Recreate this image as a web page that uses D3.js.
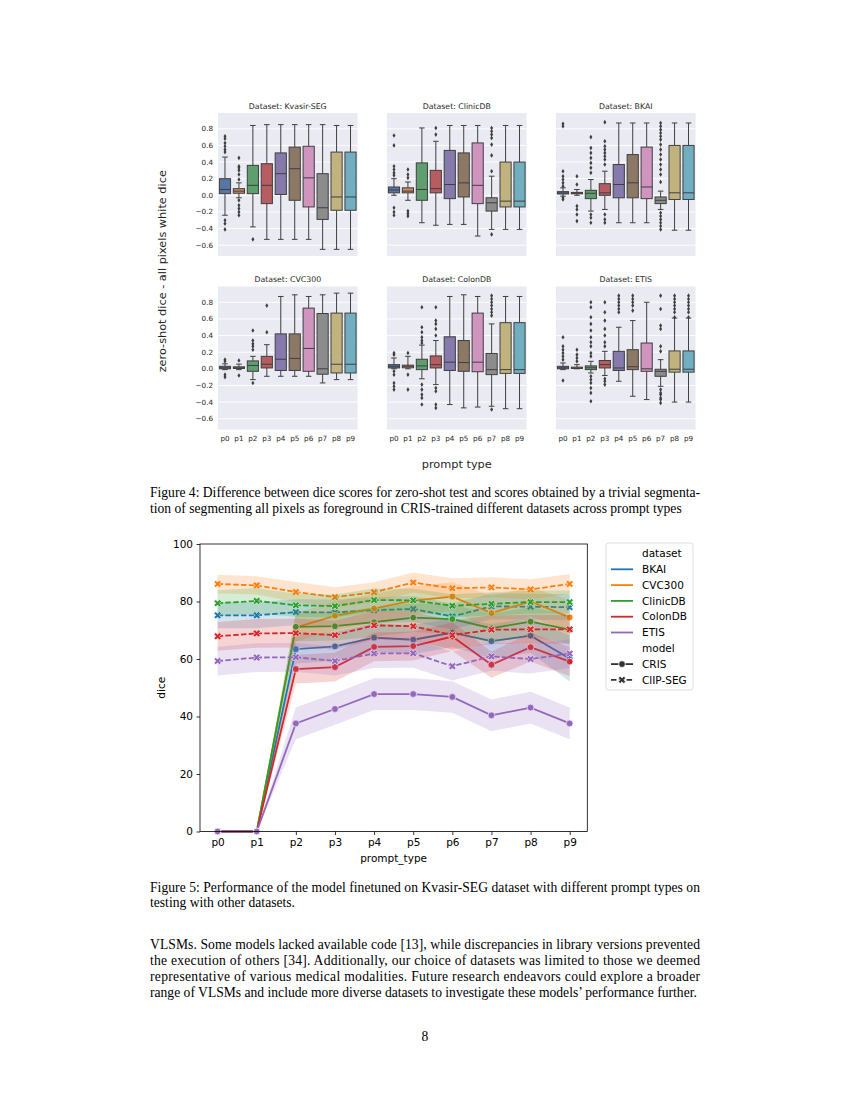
<!DOCTYPE html>
<html>
<head>
<meta charset="utf-8">
<script src="https://cdn.jsdelivr.net/npm/d3@7"></script>
<style>
  body { margin: 0; background: #fff; }
  svg { display: block; }
</style>
</head>
<body>
<svg id="page" width="850" height="1100"></svg>
<script>
// ---------- data ----------
const prompts = ['p0', 'p1', 'p2', 'p3', 'p4', 'p5', 'p6', 'p7', 'p8', 'p9'];

// figure 4: one box per prompt = [whisker low, q1, median, q3, whisker high]
const boxDatasets = ['Kvasir-SEG', 'ClinicDB', 'BKAI', 'CVC300', 'ColonDB', 'ETIS'];
const boxTicks = [-0.6, -0.4, -0.2, 0.0, 0.2, 0.4, 0.6, 0.8];

const kvasirBoxes = [
  [-0.24, 0.02, 0.07, 0.20, 0.46], [-0.03, 0.025, 0.05, 0.08, 0.15], [-0.38, 0.02, 0.12, 0.36, 0.84],
  [-0.53, -0.10, 0.12, 0.38, 0.85], [-0.53, 0.01, 0.26, 0.51, 0.85], [-0.53, -0.06, 0.32, 0.58, 0.85],
  [-0.53, -0.14, 0.21, 0.59, 0.85], [-0.65, -0.29, -0.15, 0.26, 0.85], [-0.65, -0.18, -0.02, 0.52, 0.84],
  [-0.65, -0.18, -0.02, 0.52, 0.84]];
const kvasirFliers = [
  [0.71, 0.68, 0.63, 0.59, 0.55, 0.52, -0.30, -0.34, -0.41],
  [0.45, 0.35, 0.33, 0.30, 0.25, 0.19, -0.06, -0.12, -0.16, -0.20, -0.24],
  [-0.53], [], [], [], [], [], [], []];

const clinicBoxes = [
  [0.0, 0.03, 0.064, 0.10, 0.20], [-0.06, 0.03, 0.05, 0.09, 0.16], [-0.33, -0.06, 0.07, 0.39, 0.81],
  [-0.36, 0.03, 0.08, 0.30, 0.65], [-0.35, -0.04, 0.13, 0.54, 0.84], [-0.35, -0.02, 0.15, 0.51, 0.84],
  [-0.49, -0.10, 0.12, 0.63, 0.84], [-0.41, -0.19, -0.09, -0.03, 0.23], [-0.41, -0.14, -0.07, 0.40, 0.84],
  [-0.41, -0.14, -0.07, 0.40, 0.84]];
const clinicFliers = [
  [0.72, 0.60, 0.35, 0.31, 0.27, 0.24, -0.15, -0.20, -0.24],
  [0.31, 0.25, 0.21, -0.19, -0.22, -0.25],
  [], [0.81, 0.73], [], [], [],
  [0.81, 0.77, 0.73, 0.69, 0.61, 0.48, 0.29, -0.47], [], []];

const bkaiBoxes = [
  [-0.01, 0.016, 0.028, 0.044, 0.09], [0.0, 0.018, 0.024, 0.035, 0.07], [-0.19, -0.04, 0.024, 0.06, 0.19],
  [-0.17, 0.0, 0.03, 0.14, 0.29], [-0.33, -0.03, 0.13, 0.37, 0.87], [-0.33, -0.03, 0.15, 0.49, 0.87],
  [-0.33, -0.04, 0.10, 0.58, 0.87], [-0.17, -0.10, -0.06, -0.02, 0.05], [-0.42, -0.05, 0.03, 0.60, 0.87],
  [-0.42, -0.05, 0.03, 0.60, 0.87]];
const bkaiFliers = [
  [0.86, 0.83, 0.29, 0.23, 0.19, 0.15, 0.11, -0.03, -0.05],
  [0.23, 0.13, -0.13, -0.17, -0.23, -0.31],
  [0.70, 0.57, 0.51, 0.45, 0.39, 0.33, 0.27, -0.23, -0.27, -0.33],
  [0.88, 0.65, 0.59, 0.55, 0.51, 0.47, 0.43, 0.37, -0.23, -0.29, -0.33],
  [], [], [],
  [0.87, 0.83, 0.79, 0.75, 0.71, 0.67, 0.61, 0.55, 0.49, 0.43, 0.37, 0.31, 0.25, 0.16,
   -0.21, -0.25, -0.29, -0.33, -0.37, -0.41],
  [], []];

const cvcBoxes = [
  [-0.01, 0.0, 0.012, 0.03, 0.06], [-0.01, 0.004, 0.012, 0.024, 0.056], [-0.13, -0.03, 0.04, 0.095, 0.15],
  [-0.09, 0.01, 0.055, 0.15, 0.29], [-0.09, -0.02, 0.115, 0.42, 0.87], [-0.09, -0.02, 0.125, 0.42, 0.89],
  [-0.09, -0.03, 0.245, 0.73, 0.87], [-0.17, -0.065, 0.0, 0.665, 0.89], [-0.13, -0.05, 0.055, 0.67, 0.91],
  [-0.13, -0.05, 0.055, 0.67, 0.91]];
const cvcFliers = [
  [0.09, 0.11, -0.07, -0.10], [0.10, -0.08], [0.46, 0.34, 0.30, 0.27, 0.23, -0.17],
  [0.76, 0.44], [], [], [], [], [], []];

const colonBoxes = [
  [0.0, 0.01, 0.03, 0.05, 0.13], [0.0, 0.012, 0.03, 0.044, 0.15], [-0.12, -0.01, 0.035, 0.115, 0.285],
  [-0.19, 0.01, 0.05, 0.155, 0.34], [-0.43, -0.02, 0.08, 0.385, 0.87], [-0.47, -0.03, 0.075, 0.34, 0.89],
  [-0.46, -0.035, 0.08, 0.67, 0.87], [-0.45, -0.07, -0.01, 0.185, 0.54], [-0.48, -0.055, -0.01, 0.555, 0.87],
  [-0.48, -0.055, -0.01, 0.555, 0.87]];
const colonFliers = [
  [0.17, 0.19, -0.03, -0.07, -0.17, -0.21, -0.25],
  [0.19, -0.07, -0.25],
  [0.74, 0.50, 0.44, 0.38, 0.34, 0.31, -0.19, -0.25, -0.31, -0.35, -0.43],
  [0.74, 0.58, 0.54, 0.48, 0.40, -0.23, -0.27, -0.43, -0.47],
  [], [], [],
  [0.88, 0.84, 0.80, 0.76, 0.72, 0.68, 0.64, -0.49],
  [], []];

const etisBoxes = [
  [-0.01, 0.0, 0.012, 0.03, 0.07], [0.0, 0.004, 0.008, 0.02, 0.05], [-0.05, -0.01, 0.012, 0.035, 0.09],
  [-0.08, 0.01, 0.05, 0.10, 0.21], [-0.15, -0.02, 0.01, 0.21, 0.50], [-0.33, -0.01, 0.025, 0.23, 0.58],
  [-0.37, -0.03, 0.0, 0.31, 0.80], [-0.21, -0.09, -0.03, -0.005, 0.11], [-0.40, -0.04, -0.005, 0.215, 0.61],
  [-0.40, -0.04, -0.005, 0.215, 0.61]];
const etisFliers = [
  [0.38, 0.27, 0.23, 0.19, 0.15, 0.11, -0.14],
  [0.23, 0.17, 0.13, 0.09],
  [0.80, 0.74, 0.62, 0.54, 0.46, 0.38, 0.32, 0.27, 0.19, 0.15, -0.09, -0.13, -0.17, -0.23, -0.29, -0.39],
  [0.80, 0.68, 0.58, 0.48, 0.40, 0.32, 0.27, -0.12, -0.15, -0.19],
  [0.88, 0.84, 0.80, 0.76, 0.72, 0.68],
  [0.88, 0.84, 0.80, 0.76, 0.70],
  [],
  [0.88, 0.72, 0.52, 0.48, 0.27, 0.21, -0.25, -0.29, -0.31, -0.35, -0.37, -0.41],
  [0.88, 0.84, 0.80, 0.76, 0.72, 0.68, 0.62],
  [0.88, 0.84, 0.80, 0.76, 0.72, 0.68, 0.62]];

// figure 5: mean dice and confidence half-width per prompt
const lineDatasets = ['BKAI', 'CVC300', 'ClinicDB', 'ColonDB', 'ETIS'];
const models = ['CRIS', 'ClIP-SEG'];
const diceTicks = [0, 20, 40, 60, 80, 100];

const crisBKAI     = [0, 0, 63.4, 64.4, 67.4, 66.7, 69.2, 66.2, 68.1, 60.2];
const crisCVC300   = [0, 0, 71.0, 75.0, 77.6, 80.3, 81.7, 76.0, 80.0, 74.5];
const crisClinicDB = [0, 0, 71.2, 71.4, 72.8, 74.4, 73.9, 70.7, 73.0, 70.2];
const crisColonDB  = [0, 0, 56.5, 57.2, 64.2, 64.5, 67.8, 58.0, 64.1, 59.1];
const crisETIS     = [0, 0, 37.6, 42.6, 47.8, 47.8, 46.8, 40.4, 43.1, 37.6];

const clipBKAI     = [75.2, 75.2, 76.3, 76.2, 77.0, 77.4, 74.8, 78.3, 78.2, 78.0];
const clipCVC300   = [86.1, 85.6, 83.3, 81.5, 83.2, 86.6, 84.6, 84.9, 84.2, 86.1];
const clipClinicDB = [79.4, 80.2, 78.7, 78.4, 80.5, 80.4, 78.5, 79.2, 79.8, 79.8];
const clipColonDB  = [67.9, 68.9, 69.0, 68.3, 71.7, 71.4, 68.3, 70.2, 70.3, 70.3];
const clipETIS     = [59.3, 60.5, 60.6, 59.3, 61.9, 62.0, 57.5, 60.9, 60.0, 61.9];

const crisCiBKAI     = [0, 0, 5, 5, 5, 5, 5, 6, 6, 8];
const crisCiCVC300   = [0, 0, 5, 5, 5, 5, 5, 6, 5, 6];
const crisCiClinicDB = [0, 0, 5, 5, 5, 5, 5, 5, 5, 5];
const crisCiColonDB  = [0, 0, 5, 5, 5, 5, 5, 4.5, 5, 5];
const crisCiETIS     = [0, 0, 5.5, 5.5, 5.5, 5.5, 5.5, 5.5, 5.5, 5.5];

const clipCiBKAI     = [4.5, 4.5, 4.5, 4.5, 4.5, 4.5, 4.5, 4.5, 4.5, 4.5];
const clipCiCVC300   = [3.2, 3.2, 3.5, 3.5, 3.5, 3.5, 3.5, 3.5, 3.5, 3.5];
const clipCiClinicDB = [4.5, 4.5, 4, 4, 4, 4, 4, 4, 4, 4];
const clipCiColonDB  = [5, 5, 5, 5, 5, 5, 5, 5, 5, 5];
const clipCiETIS     = [5, 5, 5, 5, 5, 5, 5, 5, 5, 5];

// text
const fig4Caption = [
  'Figure 4: Difference between dice scores for zero-shot test and scores obtained by a trivial segmenta-',
  'tion of segmenting all pixels as foreground in CRIS-trained different datasets across prompt types'];
const fig5Caption = [
  'Figure 5: Performance of the model finetuned on Kvasir-SEG dataset with different prompt types on',
  'testing with other datasets.'];
const bodyLines = [
  'VLSMs. Some models lacked available code [13], while discrepancies in library versions prevented',
  'the execution of others [34]. Additionally, our choice of datasets was limited to those we deemed',
  'representative of various medical modalities. Future research endeavors could explore a broader',
  'range of VLSMs and include more diverse datasets to investigate these models\u2019 performance further.'];

// ---------- drawing ----------
const svg = d3.select('#page');
const sans = 'DejaVu Sans, sans-serif';
const serif = 'Liberation Serif, Times New Roman, serif';

// ===== Figure 4: grid of box plots =====
const boxColors = ['#5875a4', '#cc8963', '#5f9e6e', '#b55d60', '#857aab',
                   '#8d7866', '#d095bf', '#8c8c8c', '#c1b37f', '#71aec0'];
const boxLine = '#3f3f3f';
const panelX = [218, 387, 556];
const panelY = [113, 286.5];
const pw = 139.5, ph = 143;

const panels = [
  { boxes: kvasirBoxes, fliers: kvasirFliers },
  { boxes: clinicBoxes, fliers: clinicFliers },
  { boxes: bkaiBoxes, fliers: bkaiFliers },
  { boxes: cvcBoxes, fliers: cvcFliers },
  { boxes: colonBoxes, fliers: colonFliers },
  { boxes: etisBoxes, fliers: etisFliers }];

const xB = d3.scaleBand().domain(prompts).range([0, pw]);
const yB = d3.scaleLinear().domain([-0.73, 0.99]).range([ph, 0]);
const bw = xB.bandwidth() * 0.8;

panels.forEach((p, i) => {
  const col = i % 3, row = Math.floor(i / 3);
  const g = svg.append('g').attr('transform', `translate(${panelX[col]},${panelY[row]})`);

  g.append('rect').attr('width', pw).attr('height', ph).attr('fill', '#eaeaf2');

  g.selectAll('.grid')
    .data(boxTicks)
    .join('line')
    .attr('class', 'grid')
    .attr('x1', 0).attr('x2', pw)
    .attr('y1', d => yB(d)).attr('y2', d => yB(d))
    .attr('stroke', '#fff').attr('stroke-width', 0.9);

  g.append('text')
    .attr('x', pw / 2).attr('y', -4.5)
    .attr('text-anchor', 'middle')
    .attr('font-family', sans).attr('font-size', 7.8).attr('fill', '#262626')
    .text('Dataset: ' + boxDatasets[i]);

  if (col === 0) {
    g.selectAll('.ytick')
      .data(boxTicks)
      .join('text')
      .attr('class', 'ytick')
      .attr('x', -5).attr('y', d => yB(d)).attr('dy', '0.35em')
      .attr('text-anchor', 'end')
      .attr('font-family', sans).attr('font-size', 7.2).attr('fill', '#262626')
      .text(d => d === 0 ? '0.0' : d3.format('.1f')(d).replace('-', '\u2212'));
  }
  if (row === 1) {
    g.selectAll('.xtick')
      .data(prompts)
      .join('text')
      .attr('class', 'xtick')
      .attr('x', d => xB(d) + xB.bandwidth() / 2).attr('y', ph + 11)
      .attr('text-anchor', 'middle')
      .attr('font-family', sans).attr('font-size', 7.2).attr('fill', '#262626')
      .text(d => d);
  }

  const rows = p.boxes.map((b, j) => ({ b: b, f: p.fliers[j], j: j }));
  const box = g.selectAll('.box')
    .data(rows)
    .join('g')
    .attr('class', 'box')
    .attr('transform', d => `translate(${xB(prompts[d.j]) + xB.bandwidth() / 2},0)`);

  // whiskers and caps
  box.append('line').attr('y1', d => yB(d.b[0])).attr('y2', d => yB(d.b[1]));
  box.append('line').attr('y1', d => yB(d.b[3])).attr('y2', d => yB(d.b[4]));
  box.append('line').attr('x1', -bw / 4).attr('x2', bw / 4)
    .attr('y1', d => yB(d.b[0])).attr('y2', d => yB(d.b[0]));
  box.append('line').attr('x1', -bw / 4).attr('x2', bw / 4)
    .attr('y1', d => yB(d.b[4])).attr('y2', d => yB(d.b[4]));
  box.selectAll('line').attr('stroke', boxLine).attr('stroke-width', 1);

  box.append('rect')
    .attr('x', -bw / 2).attr('width', bw)
    .attr('y', d => yB(d.b[3]))
    .attr('height', d => Math.max(0.8, yB(d.b[1]) - yB(d.b[3])))
    .attr('fill', d => boxColors[d.j])
    .attr('stroke', boxLine).attr('stroke-width', 1);

  box.append('line')
    .attr('x1', -bw / 2).attr('x2', bw / 2)
    .attr('y1', d => yB(d.b[2])).attr('y2', d => yB(d.b[2]))
    .attr('stroke', boxLine).attr('stroke-width', 1);

  box.selectAll('.flier')
    .data(d => d.f)
    .join('path')
    .attr('class', 'flier')
    .attr('d', 'M0,-2.3L1.5,0L0,2.3L-1.5,0Z')
    .attr('transform', d => `translate(0,${yB(d)})`)
    .attr('fill', boxLine);
});

svg.append('text')
  .attr('transform', `translate(162,${(panelY[0] + panelY[1] + ph) / 2}) rotate(-90)`)
  .attr('text-anchor', 'middle').attr('dy', '0.35em')
  .attr('font-family', sans).attr('font-size', 11.3).attr('fill', '#262626')
  .text('zero-shot dice - all pixels white dice');

svg.append('text')
  .attr('x', (panelX[0] + panelX[2] + pw) / 2).attr('y', 468)
  .attr('text-anchor', 'middle')
  .attr('font-family', sans).attr('font-size', 11.3).attr('fill', '#262626')
  .text('prompt type');

// ===== Figure 5: line plot =====
const lineColors = ['#1f77b4', '#ff7f0e', '#2ca02c', '#d62728', '#9467bd'];
const crisSeries = [crisBKAI, crisCVC300, crisClinicDB, crisColonDB, crisETIS];
const clipSeries = [clipBKAI, clipCVC300, clipClinicDB, clipColonDB, clipETIS];
const crisCis = [crisCiBKAI, crisCiCVC300, crisCiClinicDB, crisCiColonDB, crisCiETIS];
const clipCis = [clipCiBKAI, clipCiCVC300, clipCiClinicDB, clipCiColonDB, clipCiETIS];

const L = { left: 200, right: 587.3, top: 544, bottom: 831.5 };
const xL = d3.scaleLinear().domain([-0.45, 9.45]).range([L.left, L.right]);
const yL = d3.scaleLinear().domain([0, 100]).range([L.bottom, L.top]);

const fig5 = svg.append('g');

const xAxis = fig5.append('g')
  .attr('transform', `translate(0,${L.bottom})`)
  .call(d3.axisBottom(xL).tickValues(d3.range(prompts.length))
    .tickFormat(i => prompts[i]).tickSize(3.5).tickPadding(3.5).tickSizeOuter(0));
const yAxis = fig5.append('g')
  .attr('transform', `translate(${L.left},0)`)
  .call(d3.axisLeft(yL).tickValues(diceTicks).tickSize(3.5).tickPadding(3.5).tickSizeOuter(0));
[xAxis, yAxis].forEach(a => {
  a.select('.domain').remove();
  a.selectAll('line').attr('stroke', '#000').attr('stroke-width', 0.8);
  a.selectAll('text').attr('font-family', sans).attr('font-size', 10.5).attr('fill', '#000');
});

const area = d3.area()
  .x(d => xL(d.i))
  .y0(d => yL(d.v - d.c))
  .y1(d => yL(d.v + d.c));
const line = d3.line().x(d => xL(d.i)).y(d => yL(d.v));
const xMark = d3.symbol().type(d3.symbolCross).size(34);

const plot = fig5.append('g');
lineDatasets.forEach((name, di) => {
  [0, 1].forEach(mi => {
    const vals = mi === 0 ? crisSeries[di] : clipSeries[di];
    const cis = mi === 0 ? crisCis[di] : clipCis[di];
    const pts = vals.map((v, i) => ({ i: i, v: v, c: cis[i] }));
    const color = lineColors[di];

    plot.append('path')
      .datum(pts)
      .attr('d', line)
      .attr('fill', 'none')
      .attr('stroke', color).attr('stroke-width', 1.8)
      .attr('stroke-dasharray', mi === 1 ? '5.5,2.3' : null);

    if (mi === 0) {
      plot.selectAll(null)
        .data(pts)
        .join('circle')
        .attr('cx', d => xL(d.i)).attr('cy', d => yL(d.v))
        .attr('r', 3.4)
        .attr('fill', color).attr('stroke', '#fff').attr('stroke-width', 0.8);
    } else {
      plot.selectAll(null)
        .data(pts)
        .join('path')
        .attr('d', xMark)
        .attr('transform', d => `translate(${xL(d.i)},${yL(d.v)}) rotate(45)`)
        .attr('fill', color).attr('stroke', '#fff').attr('stroke-width', 0.7);
    }

    plot.append('path')
      .datum(pts)
      .attr('d', area)
      .attr('fill', color).attr('fill-opacity', 0.2)
      .attr('stroke', 'none');
  });
});

fig5.append('rect')
  .attr('x', L.left).attr('y', L.top)
  .attr('width', L.right - L.left).attr('height', L.bottom - L.top)
  .attr('fill', 'none').attr('stroke', '#000').attr('stroke-width', 0.8);

fig5.append('text')
  .attr('x', (L.left + L.right) / 2).attr('y', 862)
  .attr('text-anchor', 'middle')
  .attr('font-family', sans).attr('font-size', 10.5)
  .text('prompt_type');

fig5.append('text')
  .attr('transform', `translate(165,${(L.top + L.bottom) / 2}) rotate(-90)`)
  .attr('text-anchor', 'middle')
  .attr('font-family', sans).attr('font-size', 10.5)
  .text('dice');

// legend
const legendItems = [{ label: 'dataset', kind: 'title' }]
  .concat(lineDatasets.map((d, i) => ({ label: d, kind: 'hue', color: lineColors[i] })))
  .concat([{ label: 'model', kind: 'title' }])
  .concat(models.map((m, i) => ({ label: m, kind: 'style', dashed: i === 1 })));

const leg = fig5.append('g').attr('transform', 'translate(606,543)');
leg.append('rect')
  .attr('width', 87).attr('height', 147).attr('rx', 2.5)
  .attr('fill', '#fff').attr('fill-opacity', 0.8)
  .attr('stroke', '#d6d6d6').attr('stroke-width', 0.8);

const entry = leg.selectAll('.entry')
  .data(legendItems)
  .join('g')
  .attr('class', 'entry')
  .attr('transform', (d, i) => `translate(0,${10.5 + i * 15.8})`);

entry.filter(d => d.kind !== 'title').append('line')
  .attr('x1', 5).attr('x2', 27)
  .attr('stroke', d => d.kind === 'hue' ? d.color : '#333')
  .attr('stroke-width', 1.8)
  .attr('stroke-dasharray', d => d.dashed ? '5.5,2.3' : null);
entry.filter(d => d.kind === 'style' && !d.dashed).append('circle')
  .attr('cx', 16).attr('r', 3.4).attr('fill', '#333').attr('stroke', '#fff').attr('stroke-width', 0.8);
entry.filter(d => d.kind === 'style' && d.dashed).append('path')
  .attr('d', xMark).attr('transform', 'translate(16,0) rotate(45)')
  .attr('fill', '#333').attr('stroke', '#fff').attr('stroke-width', 0.7);
entry.append('text')
  .attr('x', 36).attr('dy', '0.35em')
  .attr('font-family', sans).attr('font-size', 10.5)
  .text(d => d.label);

// ===== text blocks =====
const textLeft = 150, textWidth = 550;
function block(lines, y0, lead) {
  svg.append('g').selectAll('text')
    .data(lines)
    .join('text')
    .attr('x', textLeft)
    .attr('y', (d, i) => y0 + i * lead)
    .attr('font-family', serif).attr('font-size', 13.6).attr('fill', '#000')
    .attr('textLength', (d, i) => i < lines.length - 1 ? textWidth : null)
    .attr('lengthAdjust', 'spacing')
    .text(d => d);
}
block(fig4Caption, 497, 16);
block(fig5Caption, 891.5, 15.5);
block(bodyLines, 949, 16);

svg.append('text')
  .attr('x', 425).attr('y', 1041)
  .attr('text-anchor', 'middle')
  .attr('font-family', serif).attr('font-size', 13.6)
  .text('8');
</script>
</body>
</html>
